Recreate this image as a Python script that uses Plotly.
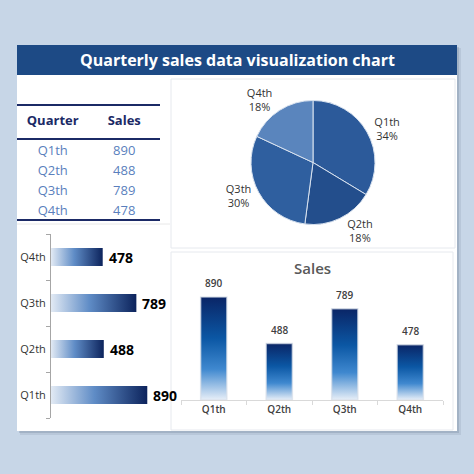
"""
Quarterly sales dashboard: table, pie, horizontal and vertical bars
"""
import plotly.graph_objects as go

W, H = 474, 474

quarters = ["Q1th", "Q2th", "Q3th", "Q4th"]
sales = [890, 488, 789, 478]
pie_colors = ["#2c5a9a", "#234e8c", "#2f5f9f", "#5a85bd"]
title_text = "Quarterly sales data visualization chart"
bar_title = "Sales"


def px(x):
    return x / W


def py(y):
    return 1 - y / H


def rect(x0, y0, x1, y1, fill, line=None, opacity=1.0):
    return dict(type="rect", xref="paper", yref="paper", layer="below",
                x0=px(x0), x1=px(x1), y0=py(y1), y1=py(y0),
                fillcolor=fill, opacity=opacity,
                line={"width": 1 if line else 0, "color": line or fill})


def hline(x0, x1, y, color, width):
    return dict(type="line", xref="paper", yref="paper", layer="below",
                x0=px(x0), x1=px(x1), y0=py(y), y1=py(y),
                line={"color": color, "width": width})


fig = go.Figure()

# table
fig.add_trace(go.Table(
    domain={"x": [px(17), px(160)], "y": [py(226), py(103)]},
    columnwidth=[1, 1],
    header={"values": ["<b>Quarter</b>", "<b>Sales</b>"],
            "fill": {"color": "rgba(0,0,0,0)"},
            "line": {"width": 0},
            "align": "center", "height": 30,
            "font": {"family": "Open Sans", "size": 13, "color": "#1b2a66"}},
    cells={"values": [quarters, sales],
           "fill": {"color": "rgba(0,0,0,0)"},
           "line": {"width": 0},
           "align": "center", "height": 20,
           "font": {"family": "Open Sans", "size": 13, "color": "#5a7fbd"}},
))

# pie
fig.add_trace(go.Pie(
    labels=quarters, values=sales, sort=False, direction="clockwise",
    rotation=0, hole=0,
    domain={"x": [px(251), px(375)], "y": [py(225), py(100)]},
    marker={"colors": pie_colors, "line": {"color": "#d8e2ef", "width": 1}},
    textposition="outside", texttemplate="%{label}<br>%{percent:.0%}",
    textfont={"family": "Open Sans", "size": 11, "color": "#333333"},
    showlegend=False,
))

# horizontal bars (gradient light -> dark)
h_scale = [[0, "#e2eaf4"], [0.45, "#5f8cc6"], [1, "#0c235c"]]
for i, (q, v) in enumerate(zip(quarters, sales)):
    fig.add_trace(go.Scatter(
        x=[0, 0, v, v, 0], y=[i - 0.195, i + 0.195, i + 0.195, i - 0.195, i - 0.195],
        fill="toself", mode="lines", line={"width": 0},
        fillgradient={"type": "horizontal", "colorscale": h_scale},
        xaxis="x2", yaxis="y2", showlegend=False, hoverinfo="skip",
    ))

# vertical bars (gradient dark top -> light bottom)
v_scale = [[0, "#e8eff8"], [0.3, "#3f88cf"], [0.6, "#0b57a4"], [1, "#0a2566"]]
for i, (q, v) in enumerate(zip(quarters, sales)):
    fig.add_trace(go.Scatter(
        x=[i - 0.2, i - 0.2, i + 0.2, i + 0.2, i - 0.2], y=[0, v, v, 0, 0],
        fill="toself", mode="lines", line={"width": 1.5, "color": "rgba(215,222,232,0.7)"},
        fillgradient={"type": "vertical", "colorscale": v_scale},
        xaxis="x3", yaxis="y3", showlegend=False, hoverinfo="skip",
    ))

annotations = [
    dict(text=f"<b>{title_text}</b>", x=px(237), y=py(60), xref="paper",
         yref="paper", showarrow=False, xanchor="center", yanchor="middle",
         font={"family": "Open Sans", "size": 16, "color": "#ffffff"}),
    dict(text=bar_title, x=px(312), y=py(268), xref="paper", yref="paper",
         showarrow=False, xanchor="center", yanchor="middle",
         font={"family": "Open Sans", "size": 15, "color": "#595959",
               "weight": 600}),
]
for i, v in enumerate(sales):
    annotations.append(dict(
        text=f"<b>{v}</b>", x=v, y=i, xref="x2", yref="y2", showarrow=False,
        xanchor="left", yanchor="middle", xshift=4,
        font={"family": "Open Sans", "size": 14, "color": "#000000"}))
    annotations.append(dict(
        text=str(v), x=i, y=v, xref="x3", yref="y3", showarrow=False,
        xanchor="center", yanchor="bottom", yshift=5,
        font={"family": "Open Sans", "size": 10, "color": "#404040",
              "weight": 600}))

shapes = [
    # card shadow
    rect(20, 48, 461, 435, "#8a9bb0", opacity=0.25),
    rect(19, 47, 459, 433, "#6f8299", opacity=0.3),
    # card
    rect(17, 45, 457, 431, "#ffffff"),
    rect(17, 45, 457, 75, "#1d4a85"),
    # panels
    rect(171, 79, 455, 248, "#ffffff", line="#e6e9ee"),
    rect(171, 252, 453, 430, "#ffffff", line="#e6e9ee"),
    # table rules
    hline(17, 160, 105, "#1b2a66", 2),
    hline(17, 160, 139, "#1b2a66", 2),
    hline(17, 160, 220, "#1b2a66", 2),
    hline(17, 170, 224, "#e8e8e8", 1),
]

fig.update_layout(
    width=W, height=H,
    margin={"l": 0, "r": 0, "t": 0, "b": 0},
    paper_bgcolor="#c7d6e7", plot_bgcolor="rgba(0,0,0,0)",
    shapes=shapes,
    annotations=annotations,
    xaxis2=dict(domain=[px(51), px(170)], range=[0, 1100], visible=False,
                anchor="y2"),
    yaxis2=dict(domain=[py(418), py(234)], range=[-0.5, 3.5], anchor="free",
                position=px(50), tickvals=list(range(len(quarters))),
                ticktext=quarters, ticks="", showline=True, linecolor="#a6a6a6",
                showgrid=False, zeroline=False, ticklabelstandoff=2,
                tickfont={"family": "Open Sans", "size": 11, "color": "#333333"},
                minor=dict(tickvals=[-0.5, 0.5, 1.5, 2.5, 3.5], ticks="outside",
                           ticklen=4, tickcolor="#a6a6a6", showgrid=False)),
    xaxis3=dict(domain=[px(181), px(443)], range=[-0.5, 3.5], anchor="y3",
                tickvals=list(range(len(quarters))), ticktext=quarters, ticks="",
                showline=True, linecolor="#d9d9d9", showgrid=False, zeroline=False,
                tickfont={"family": "Open Sans", "size": 10, "color": "#404040",
                          "weight": 600},
                minor=dict(tickvals=[-0.5, 0.5, 1.5, 2.5, 3.5], ticks="outside",
                           ticklen=4, tickcolor="#d9d9d9", showgrid=False)),
    yaxis3=dict(domain=[py(400), py(280)], range=[0, 1037], visible=False,
                anchor="x3"),
)

# drop the default page margin so the figure sits at the window corner
fig.write_html("out.html", config={"displayModeBar": False},
               post_script="document.body.style.margin = '0';")
